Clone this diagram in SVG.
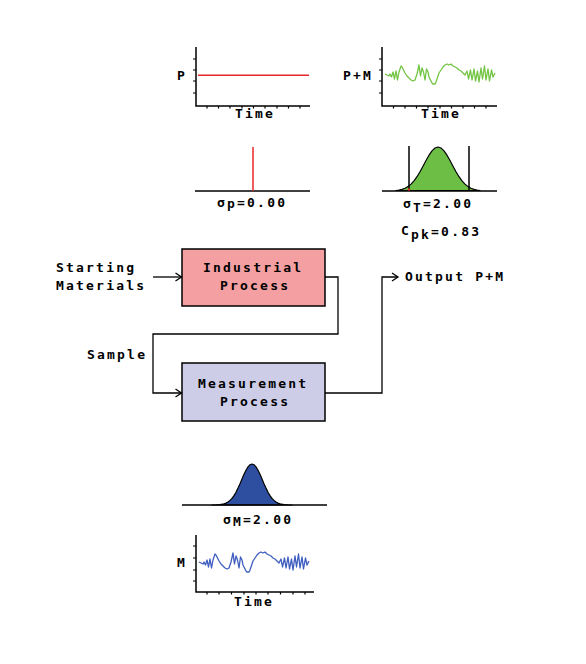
<svg xmlns="http://www.w3.org/2000/svg" xmlns:xlink="http://www.w3.org/1999/xlink" width="586" height="664" viewBox="0 0 586 664">
<style>
  text { font-family: "DejaVu Sans Mono", "Liberation Mono", monospace; font-size: 13px; font-weight: bold; letter-spacing: 2.2px; fill: #000; }
  .axis { fill: none; stroke: #000; stroke-width: 1.5; }
  .tick { fill: none; stroke: #000; stroke-width: 1.2; }
  .box { stroke: #000; stroke-width: 1.5; }
  .conn { fill: none; stroke: #000; stroke-width: 1.3; }
  .wave { fill: none; stroke-width: 1.3; stroke-linejoin: round; }
  .bell { stroke: #000; stroke-width: 1.2; stroke-linejoin: round; }
  .base { fill: none; stroke: #000; stroke-width: 1.5; }
</style>
<defs>
  <marker id="arrow" markerUnits="userSpaceOnUse" markerWidth="10" markerHeight="10" refX="7" refY="5" orient="auto">
    <path d="M1,1 L7,5 L1,9" fill="none" stroke="#000" stroke-width="1.3"/>
  </marker>
  <path id="noise" fill="none" d="M0,0 L2,1 L4,2 L5,0 L6.5,3 L8,-2 L9.5,5 L11,-3 L12.5,6 L14,-2 L16,-8 L17,-7 L18,-5 L19,-3 L20,-1 L22,2 L24,4 L26,6 L28,7 L30,6 L31,3 L32,0 L34,-9 L35.5,2 L37,-6 L38.5,-2 L40,6 L41.5,-5 L43,-2 L44,3 L45,5 L46,7 L47,9 L48,10 L50,10 L51,8 L52,5 L53,2 L54,-1 L56,-4 L58,-7 L60,-9 L62,-10 L64,-9 L66,-10 L68,-8 L70,-7 L72,-6 L74,-4 L76,-3 L78,-1 L80,1 L82,-3 L83.5,5 L85.5,-4 L87,6 L89,-5 L90.5,7 L92.5,-3 L94,8 L96,-6 L97.5,5 L99.5,-8 L101,6 L103,-5 L104.5,7 L106.5,-4 L108,3 L110,-1"/>
</defs>
<rect x="0" y="0" width="586" height="664" fill="#fff"/>

<g id="chart-P">
  <path class="axis" d="M196,47 V106 H310"/>
  <path class="tick" d="M193,59 H196 M193,70 H196 M193,81 H196 M193,93 H196 M207,106 V108.5 M218.5,106 V108.5 M230,106 V108.5 M242,106 V108.5 M253.5,106 V108.5 M265,106 V108.5 M277,106 V108.5 M288.5,106 V108.5 M300,106 V108.5"/>
  <line x1="198" y1="75.3" x2="309" y2="75.3" stroke="#E8262A" stroke-width="1.6"/>
  <text x="177" y="80">P</text>
  <text x="235" y="117.5">Time</text>
</g>

<g id="chart-PM">
  <path class="axis" d="M382,47 V106 H497"/>
  <path class="tick" d="M379,59 H382 M379,70 H382 M379,81 H382 M379,93 H382 M393.5,106 V108.5 M405,106 V108.5 M416.5,106 V108.5 M428,106 V108.5 M440,106 V108.5 M451.5,106 V108.5 M463,106 V108.5 M474.5,106 V108.5 M486,106 V108.5"/>
  <use xlink:href="#noise" href="#noise" x="385" y="74" class="wave" stroke="#72C443"/>
  <text x="343" y="80" letter-spacing="1.5">P+M</text>
  <text x="421" y="117.5">Time</text>
</g>

<g id="dist-P">
  <line class="base" x1="195" y1="191" x2="310" y2="191"/>
  <line x1="253" y1="147" x2="253" y2="191" stroke="#E8262A" stroke-width="1.5"/>
  <text x="217" y="207">σ<tspan dy="1">p</tspan><tspan dy="-1">=0.00</tspan></text>
</g>

<g id="dist-T">
  <path class="bell" fill="#6DBE45" d="M396,190.5 L399,190.1 L402,189.4 L405,188.3 L408,186.6 L411,184.1 L414,180.9 L417,176.7 L420,171.7 L423,166.2 L426,160.5 L429,155.2 L432,150.9 L435,148 L438,147 L441,148 L444,150.9 L447,155.2 L450,160.5 L453,166.2 L456,171.7 L459,176.7 L462,180.9 L465,184.1 L468,186.6 L471,188.3 L474,189.4 L477,190.1 L480,190.5 Z"/>
  <line class="base" x1="382" y1="191" x2="497" y2="191"/>
  <line x1="409" y1="146" x2="409" y2="191" stroke="#000" stroke-width="1.5"/>
  <line x1="469" y1="146" x2="469" y2="191" stroke="#000" stroke-width="1.5"/>
  <circle cx="409" cy="189.5" r="1.2" fill="#E8262A"/>
  <text x="403" y="208">σ<tspan dy="4">T</tspan><tspan dy="-4">=2.00</tspan></text>
  <text x="401" y="235">C<tspan dy="4">pk</tspan><tspan dy="-3">=0.83</tspan></text>
</g>

<g id="industrial">
  <rect class="box" x="182" y="249" width="143" height="57" fill="#F4A0A2"/>
  <text x="203" y="272">Industrial</text>
  <text x="220" y="290">Process</text>
</g>

<g id="measurement">
  <rect class="box" x="182" y="363" width="143" height="58" fill="#CDCDE8"/>
  <text x="198" y="388">Measurement</text>
  <text x="220" y="406">Process</text>
</g>

<g id="labels">
  <text x="56" y="272">Starting</text>
  <text x="56" y="290">Materials</text>
  <text x="87" y="359">Sample</text>
  <text x="405" y="281">Output P+M</text>
</g>

<g id="connectors">
  <path class="conn" d="M153,277 H181.5" marker-end="url(#arrow)"/>
  <path class="conn" d="M325,277 H338 V334 H153 V393 H181.5" marker-end="url(#arrow)"/>
  <path class="conn" d="M325,393 H382 V277 H398" marker-end="url(#arrow)"/>
</g>

<g id="dist-M">
  <path class="bell" fill="#2E4FA0" d="M212,505 L216,504.9 L220,504.6 L224,503.8 L226,503.1 L228,502 L230,500.4 L232,498.3 L234,495.6 L236,492.2 L238,488.1 L240,483.7 L242,479 L244,474.3 L246,470.2 L248,466.9 L250,464.7 L252,464 L254,464.7 L256,466.9 L258,470.2 L260,474.3 L262,479 L264,483.7 L266,488.1 L268,492.2 L270,495.6 L272,498.3 L274,500.4 L276,502 L278,503.1 L280,503.8 L284,504.6 L288,504.9 L292,505 Z"/>
  <line class="base" x1="182" y1="505" x2="327" y2="505"/>
  <text x="223" y="524">σ<tspan dy="2">M</tspan><tspan dy="-2">=2.00</tspan></text>
</g>

<g id="chart-M">
  <path class="axis" d="M196,535 V592 H314"/>
  <path class="tick" d="M193,546 H196 M193,558 H196 M193,570 H196 M193,581 H196 M207,592 V594.5 M219,592 V594.5 M231.5,592 V594.5 M244,592 V594.5 M256,592 V594.5 M268,592 V594.5 M280.5,592 V594.5 M293,592 V594.5 M305,592 V594.5"/>
  <use xlink:href="#noise" href="#noise" x="199" y="562" class="wave" stroke="#3F5EBF"/>
  <text x="177" y="567">M</text>
  <text x="234" y="606">Time</text>
</g>
</svg>
